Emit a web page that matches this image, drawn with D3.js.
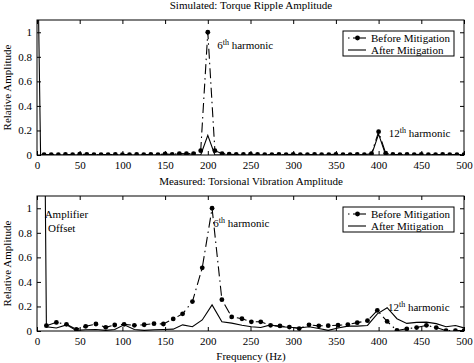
<!DOCTYPE html>
<html><head><meta charset="utf-8">
<script src="https://cdn.jsdelivr.net/npm/d3@7"></script>
<style>
body{margin:0;background:#fff;}
svg{display:block;}
svg text{font-family:"Liberation Serif","Times New Roman",serif;}
</style></head><body>
<svg id="chart" width="474" height="363"></svg>
<script>
// ---------- data ----------
const xTicks = [0,50,100,150,200,250,300,350,400,450,500];
const yTicks = [0,0.2,0.4,0.6,0.8,1];
const seriesNames = ["Before Mitigation","After Mitigation"];
const titles = ["Simulated: Torque Ripple Amplitude","Measured: Torsional Vibration Amplitude"];

// Simulated (top)
const simFreq = [8.3,16.7,25,33.3,41.7,50,58.3,66.7,75,83.3,91.7,100,108.3,116.7,125,133.3,141.7,150,158.3,166.7,
  175,183.3,191.7,200,208.3,216.7,225,233.3,241.7,250,258.3,266.7,275,283.3,291.7,300,308.3,316.7,325,333.3,
  341.7,350,358.3,366.7,375,383.3,391.7,400,408.3,416.7,425,433.3,441.7,450,458.3,466.7,475,483.3,491.7,500];
const simBefore = [0.003,0.003,0.003,0.004,0.003,0.006,0.004,0.003,0.003,0.003,0.004,0.003,0.003,0.004,0.003,0.004,0.003,0.008,0.005,0.012,
  0.01,0.012,0.035,1.0,0.035,0.012,0.006,0.004,0.004,0.006,0.004,0.003,0.003,0.004,0.003,0.005,0.003,0.003,0.004,0.003,
  0.003,0.005,0.003,0.003,0.004,0.003,0.012,0.19,0.015,0.004,0.003,0.004,0.003,0.005,0.003,0.003,0.004,0.003,0.003,0.003];
const simAfterFreq = [0,4.2,8.3,100,191.7,200,208.3,300,391.7,400,408.3,500];
const simAfter = [2.0,0,0,0,0,0.16,0,0,0,0.17,0,0];

// Measured (bottom)
const measFreq = [11,22.7,34.5,46,57,69,80.5,91,102,114,125.5,137,148,159.5,170.5,182,193.5,205,216.5,228,
  240,251,262,273.5,284.5,295.5,307,318.5,330,341,352.5,364,375,387,398.5,410,421.5,433,444.5,456,467.5,479,490,500];
const measBefore = [0.043,0.07,0.054,0.014,0.038,0.057,0.03,0.049,0.054,0.046,0.051,0.06,0.057,0.098,0.14,0.24,0.515,1.0,0.255,0.115,
  0.1,0.075,0.075,0.046,0.041,0.032,0.02,0.05,0.042,0.043,0.047,0.052,0.068,0.084,0.168,0.078,0.004,0.018,0.028,0.046,0.028,0.003,0.003,0.003];
const measAfterFreq = [9.5].concat(measFreq);
const measAfter = [1.3,0.035,0.025,0.05,0.005,0.01,0.012,0.005,0.012,0.05,0.012,0.005,0.01,0.012,0.015,0.05,0.035,0.09,0.213,0.076,0.064,
  0.047,0.035,0.028,0.05,0.035,0.03,0.025,0.035,0.02,0.005,0.025,0.04,0.04,0.045,0.14,0.19,0.1,0.062,0.07,0.072,0.06,0.035,0.045,0.025];

// annotations [x, y, main, superscript, rest]
const simNotes = [[211,0.86,"6","th"," harmonic"],[412,0.15,"12","th"," harmonic"]];
const measNotes = [[206.5,0.85,"6","th"," harmonic"],[411,0.165,"12","th"," harmonic"],[9,0.92,"Amplifier","",""],[13,0.81,"Offset","",""]];

// ---------- drawing ----------
const svg = d3.select("#chart");
const X0 = 37, X1 = 464, FS = 11;
const FONT = "Liberation Serif";
const x = d3.scaleLinear().domain([0,500]).range([X0,X1]);
const DASH = "10,4,1.5,4";

function panel(idx, top, bottom, beforeX, beforeY, afterX, afterY, notes, showXLabel){
  const y = d3.scaleLinear().domain([0,1.1]).range([bottom, top]);
  const g = svg.append("g");
  const clipId = "clip"+idx;
  svg.append("clipPath").attr("id",clipId).append("rect")
    .attr("x",X0).attr("y",top).attr("width",X1-X0).attr("height",bottom-top);

  // axes
  const ax = g.append("g");
  ax.append("g").attr("transform",`translate(0,${bottom})`)
    .call(d3.axisBottom(x).tickValues(xTicks).tickSizeInner(-4).tickSizeOuter(0).tickPadding(6).tickFormat(d3.format("d")));
  ax.append("g").attr("transform",`translate(0,${top})`)
    .call(d3.axisTop(x).tickValues(xTicks).tickSizeInner(-4).tickSizeOuter(0).tickFormat(""));
  ax.append("g").attr("transform",`translate(${X0},0)`)
    .call(d3.axisLeft(y).tickValues(yTicks).tickSizeInner(-4).tickSizeOuter(0).tickPadding(5).tickFormat(d=>d===0?"0":d===1?"1":d3.format(".1f")(d)));
  ax.append("g").attr("transform",`translate(${X1},0)`)
    .call(d3.axisRight(y).tickValues(yTicks).tickSizeInner(-4).tickSizeOuter(0).tickFormat(""));
  ax.selectAll(".domain").remove();
  ax.selectAll("g").attr("font-family",FONT).attr("font-size",FS);
  ax.selectAll("text").attr("fill","#000");
  ax.selectAll("line").attr("stroke","#000");
  g.append("rect").attr("x",X0).attr("y",top).attr("width",X1-X0).attr("height",bottom-top)
    .attr("fill","none").attr("stroke","#000").attr("stroke-width",1);

  const plot = g.append("g").attr("clip-path",`url(#${clipId})`);
  const line = d3.line().x(d=>x(d[0])).y(d=>y(d[1]));
  const bData = beforeX.map((f,i)=>[f,beforeY[i]]);
  const aData = afterX.map((f,i)=>[f,afterY[i]]);
  plot.append("path").datum(aData).attr("d",line).attr("fill","none").attr("stroke","#000").attr("stroke-width",1.1);
  plot.append("path").datum(bData).attr("d",line).attr("fill","none").attr("stroke","#000").attr("stroke-width",1.1)
    .attr("stroke-dasharray",DASH);
  plot.selectAll("circle").data(bData).join("circle")
    .attr("cx",d=>x(d[0])).attr("cy",d=>y(d[1])).attr("r",2.4).attr("fill","#000");

  // title
  svg.append("text").attr("x",251).attr("y",top-11).attr("text-anchor","middle")
    .attr("font-family",FONT).attr("font-size",FS).text(titles[idx]);
  // y label
  svg.append("text").attr("transform",`translate(11,${(top+bottom)/2}) rotate(-90)`)
    .attr("text-anchor","middle").attr("font-family",FONT).attr("font-size",FS).text("Relative Amplitude");

  // annotations
  notes.forEach(n=>{
    const t = svg.append("text").attr("x",x(n[0])).attr("y",y(n[1]))
      .attr("font-family",FONT).attr("font-size",FS).attr("fill","#000");
    t.append("tspan").text(n[2]);
    if(n[3]){
      t.append("tspan").attr("dy",-4).attr("font-size",8).text(n[3]);
      t.append("tspan").attr("dy",4).text(n[4]);
    }
  });

  // legend
  const lx = 343, ly = top+11, lw = 111, lh = 25;
  const lg = svg.append("g");
  lg.append("rect").attr("x",lx).attr("y",ly).attr("width",lw).attr("height",lh)
    .attr("fill","#fff").attr("stroke","#000").attr("stroke-width",1);
  const r1 = ly+7, r2 = ly+19;
  lg.append("line").attr("x1",348).attr("x2",349.5).attr("y1",r1).attr("y2",r1).attr("stroke","#000").attr("stroke-width",1.1);
  lg.append("line").attr("x1",353).attr("x2",366).attr("y1",r1).attr("y2",r1).attr("stroke","#000").attr("stroke-width",1.1);
  lg.append("circle").attr("cx",357.5).attr("cy",r1).attr("r",2.4).attr("fill","#000");
  lg.append("line").attr("x1",348).attr("x2",366).attr("y1",r2).attr("y2",r2).attr("stroke","#000").attr("stroke-width",1.1);
  lg.append("text").attr("x",371).attr("y",r1+4).attr("font-family",FONT).attr("font-size",FS).text(seriesNames[0]);
  lg.append("text").attr("x",371).attr("y",r2+4).attr("font-family",FONT).attr("font-size",FS).text(seriesNames[1]);

  if(showXLabel){
    svg.append("text").attr("x",251).attr("y",360).attr("text-anchor","middle")
      .attr("font-family",FONT).attr("font-size",FS).text("Frequency (Hz)");
  }
}

panel(0, 20, 155, simFreq, simBefore, simAfterFreq, simAfter, simNotes, false);
panel(1, 196, 331, measFreq, measBefore, measAfterFreq, measAfter, measNotes, true);
</script>
</body></html>
